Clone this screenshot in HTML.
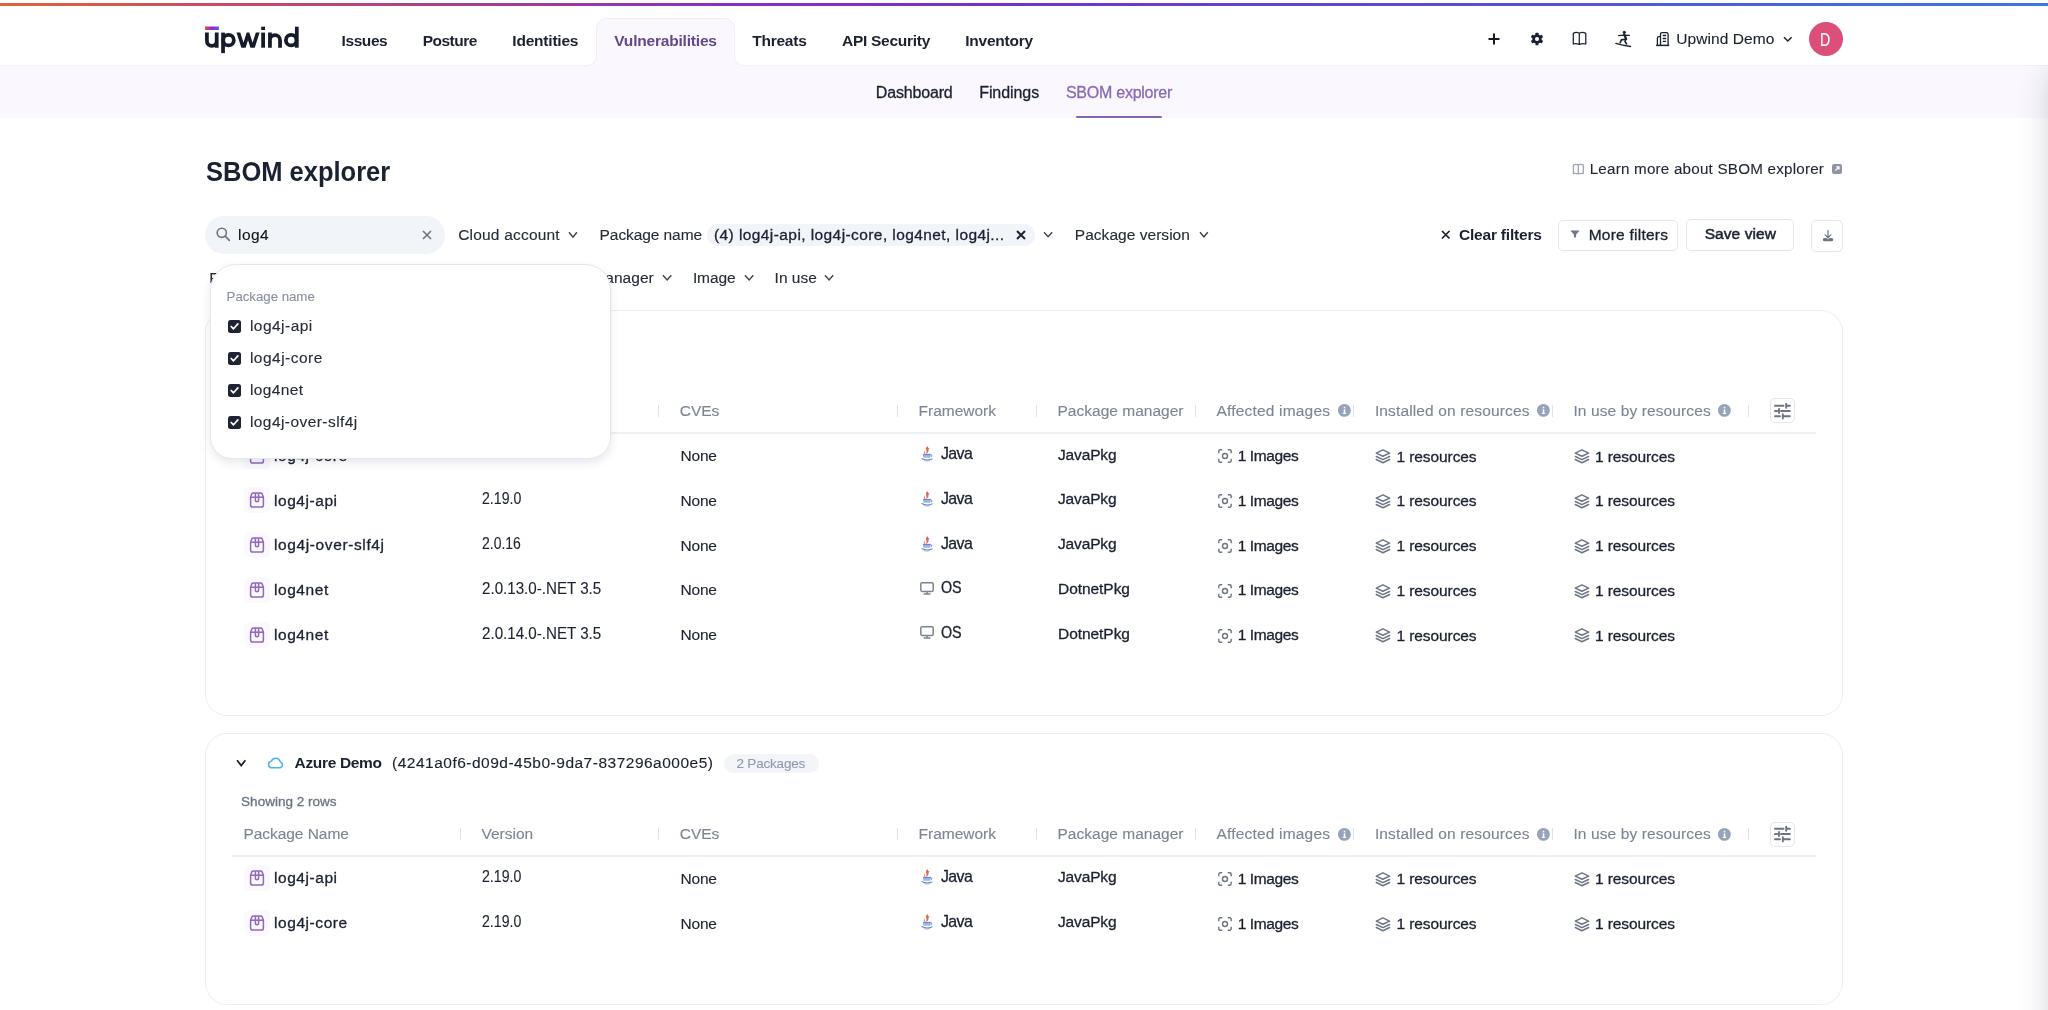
<!DOCTYPE html>
<html><head><meta charset="utf-8"><title>SBOM explorer</title>
<style>
html,body{margin:0;padding:0;background:#fff;}
body{width:2048px;height:1010px;position:relative;overflow:hidden;background:#fff;font-family:"Liberation Sans",sans-serif;-webkit-font-smoothing:antialiased;}
.a{position:absolute;}
.t{position:absolute;white-space:nowrap;line-height:1;font-family:"Liberation Sans",sans-serif;}
svg.a{overflow:visible;}
</style></head><body><div id="root" style="position:absolute;left:0;top:0;width:2048px;height:1010px;will-change:transform;">
<div class="a" style="left:0px;top:3px;width:2048px;height:3px;background:linear-gradient(90deg,#e2643a 0%,#c94c60 10%,#a8408c 22%,#8a30bc 34%,#7432c8 49%,#5650d4 73%,#3a78e2 100%);"></div>
<div class="a" style="left:0px;top:66px;width:2048px;height:52px;background:#faf8fe;"></div>
<div class="a" style="left:0px;top:65.4px;width:590px;height:1.0px;background:#f3f0f9;"></div>
<div class="a" style="left:741px;top:65.4px;width:1307px;height:1.0px;background:#f3f0f9;"></div>
<div class="a" style="left:596px;top:17.5px;width:139px;height:40px;background:#faf8fe;border:1px solid #f1edf9;border-bottom:none;border-radius:10px 10px 0 0;box-sizing:border-box;"></div>
<div class="a" style="left:597px;top:56px;width:137px;height:11px;background:#faf8fe;"></div>
<svg class="a" style="left:585px;top:56px" width="12" height="11" viewBox="0 0 12 11"><path d="M0 10 A10.5 10 0 0 0 11.5 0 L12 0 L12 11 L0 11Z" fill="#faf8fe"/><path d="M0 9.8 A10.5 9.8 0 0 0 11.5 0" fill="none" stroke="#f1edf9" stroke-width="1"/></svg>
<svg class="a" style="left:734px;top:56px" width="12" height="11" viewBox="0 0 12 11"><path d="M12 10 A10.5 10 0 0 1 0.5 0 L0 0 L0 11 L12 11Z" fill="#faf8fe"/><path d="M12 9.8 A10.5 9.8 0 0 1 0.5 0" fill="none" stroke="#f1edf9" stroke-width="1"/></svg>
<svg class="a" style="left:200px;top:20px;" width="105" height="40" viewBox="0 0 105 40"><defs><linearGradient id="lg" x1="0" x2="1"><stop offset="0" stop-color="#e0533a"/><stop offset="0.5" stop-color="#9a24d2"/><stop offset="1" stop-color="#4a6be2"/></linearGradient><clipPath id="wc"><rect x="230" y="32.6" width="30" height="15.1"/></clipPath></defs>
<g transform="translate(-200 -20)">
<rect x="205" y="26.5" width="14" height="3.5" fill="url(#lg)"/>
<g fill="none" stroke="#151b2b" stroke-width="3.75">
<path d="M206.9 32.6 V40.9 A4.9 4.9 0 0 0 216.7 40.9 V32.6 M216.7 40 V47.7"/>
<path d="M223.05 32.6 V53.1"/><circle cx="228.5" cy="40.15" r="5.3"/>
<path d="M237.6 30 L243.5 48.6 L248 34.2 L252.6 48.6 L258.5 30" stroke-width="3.6" stroke-linejoin="miter" clip-path="url(#wc)"/>
<path d="M263.1 32.6 V47.7"/>
<path d="M269.95 32.6 V47.7 M269.95 40.2 A5.05 5.05 0 0 1 280.05 40.2 V47.7"/>
<circle cx="291.2" cy="40.15" r="5.3"/><path d="M296.8 26.7 V47.7"/>
</g>
<rect x="261.2" y="26.7" width="3.8" height="3.3" fill="#151b2b"/>
</g></svg>
<div class="t" style="left:341.60px;top:33.28px;font-size:15.5px;color:#1b2130;font-weight:700;letter-spacing:-0.430px;">Issues</div>
<div class="t" style="left:422.70px;top:33.28px;font-size:15.5px;color:#1b2130;font-weight:700;letter-spacing:-0.500px;">Posture</div>
<div class="t" style="left:512.30px;top:33.28px;font-size:15.5px;color:#1b2130;font-weight:700;letter-spacing:-0.206px;">Identities</div>
<div class="t" style="left:752.20px;top:33.28px;font-size:15.5px;color:#1b2130;font-weight:700;letter-spacing:-0.233px;">Threats</div>
<div class="t" style="left:842.00px;top:33.28px;font-size:15.5px;color:#1b2130;font-weight:700;letter-spacing:-0.273px;">API Security</div>
<div class="t" style="left:965.20px;top:33.28px;font-size:15.5px;color:#1b2130;font-weight:700;letter-spacing:-0.231px;">Inventory</div>
<div class="t" style="left:614.30px;top:33.08px;font-size:15.5px;color:#624889;font-weight:700;letter-spacing:-0.196px;">Vulnerabilities</div>
<div class="t" style="left:875.80px;top:84.96px;font-size:16px;color:#1b2130;letter-spacing:-0.169px;-webkit-text-stroke:0.3px #1b2130;">Dashboard</div>
<div class="t" style="left:979.20px;top:84.96px;font-size:16px;color:#1b2130;letter-spacing:-0.071px;-webkit-text-stroke:0.3px #1b2130;">Findings</div>
<div class="t" style="left:1065.90px;top:84.96px;font-size:16px;color:#8a6ab6;letter-spacing:-0.246px;-webkit-text-stroke:0.3px #8a6ab6;">SBOM explorer</div>
<div class="a" style="left:1076px;top:116px;width:86px;height:2px;background:#8765b0;border-radius:1px;"></div>
<svg class="a" style="left:1488px;top:33px;" width="12" height="12" viewBox="0 0 12 12"><path d="M6 0.5V11.5M0.5 6H11.5" stroke="#151a24" stroke-width="2"/></svg>
<svg class="a" style="left:1529.7px;top:32.1px;" width="14" height="14" viewBox="0 0 14 14"><g transform="translate(7 7)" fill="#1b2130"><circle r="4.7"/><rect x="-1.5" y="-6.3" width="3" height="3.4" rx="0.6" transform="rotate(0)"/><rect x="-1.5" y="-6.3" width="3" height="3.4" rx="0.6" transform="rotate(60)"/><rect x="-1.5" y="-6.3" width="3" height="3.4" rx="0.6" transform="rotate(120)"/><rect x="-1.5" y="-6.3" width="3" height="3.4" rx="0.6" transform="rotate(180)"/><rect x="-1.5" y="-6.3" width="3" height="3.4" rx="0.6" transform="rotate(240)"/><rect x="-1.5" y="-6.3" width="3" height="3.4" rx="0.6" transform="rotate(300)"/><circle r="2.05" fill="#fff"/></g></svg>
<svg class="a" style="left:1572px;top:31.2px;" width="15" height="15" viewBox="0 0 15 15"><g fill="none" stroke="#1b2130" stroke-width="1.25" stroke-linejoin="round"><path d="M1.3 2.4 Q4.2 0.6 7.3 2.2 Q10.4 0.6 13.8 2.4 V13 Q10.4 12.2 7.3 13.4 Q4.2 12.2 1.3 13 Z"/><path d="M7.3 2.2V13.4"/></g></svg>
<svg class="a" style="left:1610px;top:28px;" width="26" height="22" viewBox="0 0 26 22"><g fill="none" stroke="#1b2130" stroke-linecap="round" stroke-linejoin="round"><circle cx="14.3" cy="4.4" r="1.3" fill="#1b2130" stroke-width="0.6"/><path d="M8.6 7.6 L14 7.1 L19.4 7.4" stroke-width="1.3"/><path d="M14.2 6.6 L15.4 9.2 L16 11" stroke-width="2.3"/><path d="M15.6 11.2 L11.4 11.9 L10.2 14.6" stroke-width="1.6"/><path d="M15.8 11.2 L15 13.5 L16.6 16" stroke-width="1.6"/><path d="M6 15.4 Q12 17.3 20.5 18.5" stroke-width="1.5"/></g></svg>
<svg class="a" style="left:1652px;top:28px;" width="22" height="22" viewBox="0 0 22 22"><g fill="none" stroke="#1b2130" stroke-width="1.3" stroke-linejoin="round"><path d="M8.5 17.4V6.2Q8.5 4.6 10.1 4.6H14.5Q16.1 4.6 16.1 6.2V17.4"/><path d="M5.4 17.4V10.2Q5.4 8.6 7 8.6H8.5"/><path d="M4.1 17.4H17.2" stroke-width="1.5"/><path d="M11.2 7.5H13.6M11.2 10.5H13.6M11.2 13.3H13.6" stroke-linecap="round"/></g></svg>
<div class="t" style="left:1676.30px;top:30.88px;font-size:15.5px;color:#1b2130;letter-spacing:0.075px;-webkit-text-stroke:0.12px #1b2130;">Upwind Demo</div>
<svg class="a" style="left:1783px;top:36px;" width="10" height="7" viewBox="0 0 10 7"><path d="M1 1.2L4.8 5L8.6 1.2" fill="none" stroke="#1b2130" stroke-width="1.5"/></svg>
<div class="a" style="left:1809px;top:22px;width:34px;height:34px;border-radius:50%;background:#db4f79;"></div>
<div class="t" style="left:1820.30px;top:30.02px;font-size:19px;color:#ffffff;-webkit-text-stroke:0.12px #ffffff;transform:scaleX(0.7445);transform-origin:0.00px 0;">D</div>
<div class="t" style="left:205.70px;top:157.52px;font-size:27.5px;color:#1a2131;font-weight:700;transform:scaleX(0.9273);transform-origin:0.00px 0;">SBOM explorer</div>
<svg class="a" style="left:1572.2px;top:162.9px;" width="12.8" height="12" viewBox="0 0 12.8 12"><g fill="none" stroke="#9ea5b2" stroke-width="1.3" stroke-linejoin="round"><path d="M1.4 2.1 Q3.7 0.7 6.3 1.9 Q8.9 0.7 11.3 2.1 V10.6 Q8.9 9.9 6.3 10.9 Q3.7 9.9 1.4 10.6 Z"/><path d="M6.3 1.9V10.9"/></g></svg>
<div class="t" style="left:1589.70px;top:161.23px;font-size:15.2px;color:#1f2635;letter-spacing:0.217px;-webkit-text-stroke:0.12px #1f2635;">Learn more about SBOM explorer</div>
<div class="a" style="left:1831.6px;top:164.2px;width:10.2px;height:9.6px;border-radius:2px;background:#8d95a3;"></div>
<svg class="a" style="left:1831.6px;top:164.2px;" width="10.2" height="9.6" viewBox="0 0 10.2 9.6"><path d="M3.3 6.6L7 2.9M4.3 2.9H7V5.6" fill="none" stroke="#fff" stroke-width="1.2"/></svg>
<div class="a" style="left:205px;top:216px;width:240px;height:38px;border-radius:19px;background:#f1f4f9;"></div>
<svg class="a" style="left:216px;top:227px;" width="15" height="15" viewBox="0 0 15 15"><circle cx="5.8" cy="5.8" r="4.6" fill="none" stroke="#6d7483" stroke-width="1.6"/><path d="M9.2 9.2L13.3 13.3" stroke="#6d7483" stroke-width="1.7" stroke-linecap="round"/></svg>
<div class="t" style="left:238.10px;top:226.68px;font-size:15.5px;color:#111418;letter-spacing:0.400px;-webkit-text-stroke:0.12px #111418;">log4</div>
<svg class="a" style="left:421.6px;top:229.8px;" width="10" height="10" viewBox="0 0 10 10"><path d="M1 1L9 9M9 1L1 9" stroke="#6d7483" stroke-width="1.6"/></svg>
<div class="t" style="left:458.20px;top:226.88px;font-size:15.5px;color:#252b38;letter-spacing:0.200px;-webkit-text-stroke:0.12px #252b38;">Cloud account</div>
<svg class="a" style="left:568.3px;top:231.1px;" width="9.900000000000091" height="7.300000000000011" viewBox="0 0 9.900000000000091 7.300000000000011"><path d="M1 1.2L4.95 6.10L8.90 1.2" fill="none" stroke="#3a4150" stroke-width="1.4"/></svg>
<div class="t" style="left:599.60px;top:226.88px;font-size:15.5px;color:#252b38;letter-spacing:-0.082px;-webkit-text-stroke:0.12px #252b38;">Package name</div>
<div class="a" style="left:707px;top:224px;width:328px;height:22px;border-radius:11px;background:#f1f4f9;"></div>
<div class="t" style="left:714.00px;top:227.38px;font-size:15.5px;color:#1b2130;letter-spacing:0.415px;-webkit-text-stroke:0.3px #1b2130;">(4) log4j-api, log4j-core, log4net, log4j...</div>
<svg class="a" style="left:1015.6px;top:229.6px;" width="10" height="10" viewBox="0 0 10 10"><path d="M1 1L9 9M9 1L1 9" stroke="#1b2130" stroke-width="2"/></svg>
<svg class="a" style="left:1043.2px;top:231.3px;" width="10.200000000000045" height="7.0" viewBox="0 0 10.200000000000045 7.0"><path d="M1 1.2L5.10 5.80L9.20 1.2" fill="none" stroke="#3a4150" stroke-width="1.4"/></svg>
<div class="t" style="left:1074.80px;top:227.18px;font-size:15.5px;color:#252b38;letter-spacing:0.036px;-webkit-text-stroke:0.12px #252b38;">Package version</div>
<svg class="a" style="left:1198.5px;top:231.1px;" width="9.799999999999955" height="7.0" viewBox="0 0 9.799999999999955 7.0"><path d="M1 1.2L4.90 5.80L8.80 1.2" fill="none" stroke="#3a4150" stroke-width="1.4"/></svg>
<svg class="a" style="left:1440.9px;top:229.8px;" width="9.5" height="9.5" viewBox="0 0 9.5 9.5"><path d="M1 1L8.5 8.5M8.5 1L1 8.5" stroke="#1b2130" stroke-width="1.75"/></svg>
<div class="t" style="left:1458.90px;top:227.38px;font-size:15.5px;color:#1b2130;font-weight:700;letter-spacing:-0.183px;">Clear filters</div>
<div class="a" style="left:1557.5px;top:219.5px;width:120px;height:31px;border-radius:5px;border:1px solid #e2e6ee;box-sizing:border-box;"></div>
<svg class="a" style="left:1570px;top:230px;" width="10" height="8" viewBox="0 0 10 8"><path d="M1.2 0.5H8.8Q9.6 0.5 9.1 1.2L6.1 4.6V7.2Q5 7.9 3.9 7.2V4.6L0.9 1.2Q0.4 0.5 1.2 0.5Z" fill="#707888"/></svg>
<div class="t" style="left:1588.70px;top:227.38px;font-size:15.5px;color:#1b2130;letter-spacing:0.241px;-webkit-text-stroke:0.3px #1b2130;">More filters</div>
<div class="a" style="left:1686px;top:219px;width:108px;height:31.5px;border-radius:5px;border:1px solid #e2e6ee;box-sizing:border-box;"></div>
<div class="t" style="left:1704.70px;top:226.48px;font-size:15.5px;color:#1b2130;letter-spacing:0.062px;-webkit-text-stroke:0.3px #1b2130;-webkit-text-stroke:0.5px #1b2130;">Save view</div>
<div class="a" style="left:1811px;top:220px;width:31.5px;height:31.5px;border-radius:5px;border:1px solid #e2e6ee;box-sizing:border-box;"></div>
<svg class="a" style="left:1821.5px;top:229.5px;" width="12" height="12" viewBox="0 0 12 12"><path d="M6 0.6V7.6M3.1 4.9L6 7.8L8.9 4.9" fill="none" stroke="#6d7483" stroke-width="1.25" stroke-linecap="round" stroke-linejoin="round"/><path d="M0.8 9.6 Q0.8 7.9 2.4 7.9 H4.4 L6 9.4 L7.6 7.9 H9.6 Q11.3 7.9 11.3 9.6 Q11.3 11.3 9.6 11.3 H2.4 Q0.8 11.3 0.8 9.6Z" fill="#6d7483"/></svg>
<div class="t" style="left:209.20px;top:269.68px;font-size:15.5px;color:#252b38;-webkit-text-stroke:0.12px #252b38;">Framework</div>
<div class="t" style="left:527.70px;top:269.68px;font-size:15.5px;color:#252b38;letter-spacing:0.014px;-webkit-text-stroke:0.12px #252b38;">Package manager</div>
<svg class="a" style="left:662px;top:273.7px;" width="10.299999999999955" height="7.100000000000023" viewBox="0 0 10.299999999999955 7.100000000000023"><path d="M1 1.2L5.15 5.90L9.30 1.2" fill="none" stroke="#3a4150" stroke-width="1.4"/></svg>
<div class="t" style="left:692.90px;top:269.68px;font-size:15.5px;color:#252b38;letter-spacing:-0.075px;-webkit-text-stroke:0.12px #252b38;">Image</div>
<svg class="a" style="left:743.7px;top:273.7px;" width="10.299999999999955" height="7.100000000000023" viewBox="0 0 10.299999999999955 7.100000000000023"><path d="M1 1.2L5.15 5.90L9.30 1.2" fill="none" stroke="#3a4150" stroke-width="1.4"/></svg>
<div class="t" style="left:774.60px;top:269.68px;font-size:15.5px;color:#252b38;-webkit-text-stroke:0.12px #252b38;">In use</div>
<svg class="a" style="left:824px;top:273.7px;" width="10.200000000000045" height="7.100000000000023" viewBox="0 0 10.200000000000045 7.100000000000023"><path d="M1 1.2L5.10 5.90L9.20 1.2" fill="none" stroke="#3a4150" stroke-width="1.4"/></svg>
<div class="a" style="left:205px;top:310px;width:1638px;height:406px;border:1.5px solid #eceef3;border-radius:22px;box-sizing:border-box;background:#fff;"></div>
<div class="a" style="left:205px;top:733px;width:1638px;height:271.5px;border:1.5px solid #eceef3;border-radius:22px;box-sizing:border-box;background:#fff;"></div>
<div class="t" style="left:679.70px;top:402.88px;font-size:15.5px;color:#7c8595;-webkit-text-stroke:0.12px #7c8595;">CVEs</div>
<div class="t" style="left:918.60px;top:402.88px;font-size:15.5px;color:#7c8595;letter-spacing:-0.019px;-webkit-text-stroke:0.12px #7c8595;">Framework</div>
<div class="t" style="left:1057.50px;top:402.88px;font-size:15.5px;color:#7c8595;letter-spacing:0.014px;-webkit-text-stroke:0.12px #7c8595;">Package manager</div>
<div class="t" style="left:1216.40px;top:402.88px;font-size:15.5px;color:#7c8595;letter-spacing:0.196px;-webkit-text-stroke:0.12px #7c8595;">Affected images</div>
<div class="t" style="left:1374.90px;top:402.88px;font-size:15.5px;color:#7c8595;letter-spacing:0.136px;-webkit-text-stroke:0.12px #7c8595;">Installed on resources</div>
<div class="t" style="left:1573.40px;top:402.88px;font-size:15.5px;color:#7c8595;letter-spacing:0.114px;-webkit-text-stroke:0.12px #7c8595;">In use by resources</div>
<svg class="a" style="left:1337.6px;top:404.40000000000003px;" width="12.8" height="12.8" viewBox="0 0 12.8 12.8"><circle cx="6.4" cy="6.4" r="6.4" fill="#97a3ba"/><rect x="5.7" y="5.3" width="1.6" height="4.2" fill="#fff"/><rect x="5.7" y="2.8" width="1.6" height="1.5" fill="#fff"/><rect x="4.8" y="8.9" width="3.4" height="1" fill="#fff"/></svg>
<svg class="a" style="left:1536.6px;top:404.40000000000003px;" width="12.8" height="12.8" viewBox="0 0 12.8 12.8"><circle cx="6.4" cy="6.4" r="6.4" fill="#97a3ba"/><rect x="5.7" y="5.3" width="1.6" height="4.2" fill="#fff"/><rect x="5.7" y="2.8" width="1.6" height="1.5" fill="#fff"/><rect x="4.8" y="8.9" width="3.4" height="1" fill="#fff"/></svg>
<svg class="a" style="left:1718.0px;top:404.40000000000003px;" width="12.8" height="12.8" viewBox="0 0 12.8 12.8"><circle cx="6.4" cy="6.4" r="6.4" fill="#97a3ba"/><rect x="5.7" y="5.3" width="1.6" height="4.2" fill="#fff"/><rect x="5.7" y="2.8" width="1.6" height="1.5" fill="#fff"/><rect x="4.8" y="8.9" width="3.4" height="1" fill="#fff"/></svg>
<div class="a" style="left:658.0px;top:404.6px;width:1.2000000000000455px;height:12.399999999999977px;background:#dfe2e8;"></div>
<div class="a" style="left:897.1px;top:404.6px;width:1.2000000000000455px;height:12.399999999999977px;background:#dfe2e8;"></div>
<div class="a" style="left:1035.7px;top:404.6px;width:1.2000000000000455px;height:12.399999999999977px;background:#dfe2e8;"></div>
<div class="a" style="left:1194.5px;top:404.6px;width:1.2000000000000455px;height:12.399999999999977px;background:#dfe2e8;"></div>
<div class="a" style="left:1353.1px;top:404.6px;width:1.2000000000000455px;height:12.399999999999977px;background:#dfe2e8;"></div>
<div class="a" style="left:1552.3px;top:404.6px;width:1.2000000000000455px;height:12.399999999999977px;background:#dfe2e8;"></div>
<div class="a" style="left:1747.8px;top:404.6px;width:1.2000000000000455px;height:12.399999999999977px;background:#dfe2e8;"></div>
<div class="a" style="left:1769.5px;top:398.2px;width:25.2px;height:25.2px;border:1px solid #e3e6ee;border-radius:5px;box-sizing:border-box;"></div>
<svg class="a" style="left:1774px;top:402.8px;" width="17" height="16" viewBox="0 0 17 16"><g stroke="#6b7384" stroke-width="1.9" stroke-linecap="round"><path d="M1 2.7H9.5M13.2 2.7H15.9M12.2 0.6V4.8"/><path d="M1 8H3.2M7 8H15.9M5 5.9V10.1"/><path d="M1 13.3H6M10 13.3H15.9M8.8 11.2V15.4"/></g></svg>
<div class="a" style="left:232.4px;top:431.6px;width:1583.1999999999998px;height:2.0px;background:#eef0f4;"></div>
<div class="a" style="left:243.5px;top:442.5px;width:26px;height:26px;border-radius:5px;background:#fbf9fe;"></div>
<svg class="a" style="left:247.5px;top:446.5px;" width="18" height="18" viewBox="0 0 18 18"><g fill="none" stroke="#8e69bd" stroke-width="1.5" stroke-linejoin="round"><path d="M2.6 6.2 L3.8 2.9 Q4.2 1.9 5.4 1.9 H12.6 Q13.8 1.9 14.2 2.9 L15.4 6.2 V14 Q15.4 16.1 13.3 16.1 H4.7 Q2.6 16.1 2.6 14 Z"/><path d="M2.6 6.2H15.4"/><path d="M7.4 1.9V9.2 Q7.4 10.7 9 10.7 Q10.6 10.7 10.6 9.2V1.9"/></g></svg>
<div class="t" style="left:274.00px;top:447.78px;font-size:15.5px;color:#1b2130;letter-spacing:0.572px;-webkit-text-stroke:0.3px #1b2130;">log4j-core</div>
<div class="t" style="left:481.70px;top:445.49px;font-size:16.2px;color:#1b2130;-webkit-text-stroke:0.12px #1b2130;transform:scaleX(0.8724);transform-origin:0.00px 0;">2.19.0</div>
<div class="t" style="left:680.50px;top:448.08px;font-size:15.5px;color:#1b2130;letter-spacing:-0.217px;-webkit-text-stroke:0.12px #1b2130;">None</div>
<svg class="a" style="left:921.2px;top:446.3px;" width="12" height="16" viewBox="0 0 12 16"><path d="M6.6 0.2 C2.6 2.8 7.6 4.4 4.6 8 C9.6 6 5.9 3.6 8.9 2.2 C6.4 2.6 7.8 1.3 6.6 0.2Z" fill="#e2664f"/><path d="M4.3 3.9 C2.4 5.4 4.9 6.6 4 8 C2.4 7.2 2.2 5.2 4.3 3.9Z" fill="#e77a64"/><path d="M2 8.4h7.8l-0.6 3.3h-6.6z" fill="#8ea8e0"/><path d="M2 8.4h7.8" stroke="#4f77cc" stroke-width="0.9"/><path d="M3.2 10h5.4M3.4 11.2h5" stroke="#c9d6f2" stroke-width="0.5"/><path d="M9.6 8.6 q2.2 0.3 0.7 2.2" fill="none" stroke="#5b7fcf" stroke-width="0.9"/><path d="M0.6 12.6 Q5.8 15.4 11.4 12.7" fill="none" stroke="#5b7fcf" stroke-width="1.1"/><path d="M3 14.6 Q6 15.6 9 14.6" fill="none" stroke="#8aa5de" stroke-width="0.8"/></svg>
<div class="t" style="left:940.90px;top:446.24px;font-size:15.9px;color:#1b2130;letter-spacing:-0.533px;-webkit-text-stroke:0.3px #1b2130;">Java</div>
<div class="t" style="left:1058.00px;top:446.68px;font-size:15.5px;color:#1b2130;letter-spacing:-0.142px;-webkit-text-stroke:0.3px #1b2130;">JavaPkg</div>
<svg class="a" style="left:1218.1px;top:449.4px;" width="14" height="14" viewBox="0 0 14 14"><g fill="none" stroke="#6d7483" stroke-width="1.4"><path d="M0.8 4.2V2.2Q0.8 0.8 2.2 0.8H4.2M9.8 0.8H11.8Q13.2 0.8 13.2 2.2V4.2M13.2 9.8V11.8Q13.2 13.2 11.8 13.2H9.8M4.2 13.2H2.2Q0.8 13.2 0.8 11.8V9.8"/><circle cx="7" cy="7" r="2.5"/></g></svg>
<div class="t" style="left:1237.70px;top:447.98px;font-size:15.5px;color:#1b2130;letter-spacing:-0.393px;-webkit-text-stroke:0.3px #1b2130;">1 Images</div>
<svg class="a" style="left:1375.2px;top:449.2px;" width="16" height="17" viewBox="0 0 16 17"><g fill="none" stroke="#6e7686" stroke-width="1.55" stroke-linejoin="round" stroke-linecap="round"><path d="M1.3 4.1 L7.9 0.9 L14.6 4.1 L7.9 7.3 Z"/><path d="M1.3 7.5 L7.9 10.6 L14.6 7.5"/><path d="M1.3 10.5 L7.9 13.8 L14.6 10.5"/></g></svg>
<div class="t" style="left:1396.50px;top:448.58px;font-size:15.5px;color:#1b2130;letter-spacing:-0.090px;-webkit-text-stroke:0.3px #1b2130;">1 resources</div>
<svg class="a" style="left:1573.6px;top:449.2px;" width="16" height="17" viewBox="0 0 16 17"><g fill="none" stroke="#6e7686" stroke-width="1.55" stroke-linejoin="round" stroke-linecap="round"><path d="M1.3 4.1 L7.9 0.9 L14.6 4.1 L7.9 7.3 Z"/><path d="M1.3 7.5 L7.9 10.6 L14.6 7.5"/><path d="M1.3 10.5 L7.9 13.8 L14.6 10.5"/></g></svg>
<div class="t" style="left:1594.90px;top:448.58px;font-size:15.5px;color:#1b2130;letter-spacing:-0.080px;-webkit-text-stroke:0.3px #1b2130;">1 resources</div>
<div class="a" style="left:243.5px;top:487.3px;width:26px;height:26px;border-radius:5px;background:#fbf9fe;"></div>
<svg class="a" style="left:247.5px;top:491.3px;" width="18" height="18" viewBox="0 0 18 18"><g fill="none" stroke="#8e69bd" stroke-width="1.5" stroke-linejoin="round"><path d="M2.6 6.2 L3.8 2.9 Q4.2 1.9 5.4 1.9 H12.6 Q13.8 1.9 14.2 2.9 L15.4 6.2 V14 Q15.4 16.1 13.3 16.1 H4.7 Q2.6 16.1 2.6 14 Z"/><path d="M2.6 6.2H15.4"/><path d="M7.4 1.9V9.2 Q7.4 10.7 9 10.7 Q10.6 10.7 10.6 9.2V1.9"/></g></svg>
<div class="t" style="left:274.00px;top:492.58px;font-size:15.5px;color:#1b2130;letter-spacing:0.550px;-webkit-text-stroke:0.3px #1b2130;">log4j-api</div>
<div class="t" style="left:481.70px;top:490.29px;font-size:16.2px;color:#1b2130;-webkit-text-stroke:0.12px #1b2130;transform:scaleX(0.8724);transform-origin:0.00px 0;">2.19.0</div>
<div class="t" style="left:680.50px;top:492.88px;font-size:15.5px;color:#1b2130;letter-spacing:-0.217px;-webkit-text-stroke:0.12px #1b2130;">None</div>
<svg class="a" style="left:921.2px;top:491.1px;" width="12" height="16" viewBox="0 0 12 16"><path d="M6.6 0.2 C2.6 2.8 7.6 4.4 4.6 8 C9.6 6 5.9 3.6 8.9 2.2 C6.4 2.6 7.8 1.3 6.6 0.2Z" fill="#e2664f"/><path d="M4.3 3.9 C2.4 5.4 4.9 6.6 4 8 C2.4 7.2 2.2 5.2 4.3 3.9Z" fill="#e77a64"/><path d="M2 8.4h7.8l-0.6 3.3h-6.6z" fill="#8ea8e0"/><path d="M2 8.4h7.8" stroke="#4f77cc" stroke-width="0.9"/><path d="M3.2 10h5.4M3.4 11.2h5" stroke="#c9d6f2" stroke-width="0.5"/><path d="M9.6 8.6 q2.2 0.3 0.7 2.2" fill="none" stroke="#5b7fcf" stroke-width="0.9"/><path d="M0.6 12.6 Q5.8 15.4 11.4 12.7" fill="none" stroke="#5b7fcf" stroke-width="1.1"/><path d="M3 14.6 Q6 15.6 9 14.6" fill="none" stroke="#8aa5de" stroke-width="0.8"/></svg>
<div class="t" style="left:940.90px;top:491.04px;font-size:15.9px;color:#1b2130;letter-spacing:-0.533px;-webkit-text-stroke:0.3px #1b2130;">Java</div>
<div class="t" style="left:1058.00px;top:491.48px;font-size:15.5px;color:#1b2130;letter-spacing:-0.142px;-webkit-text-stroke:0.3px #1b2130;">JavaPkg</div>
<svg class="a" style="left:1218.1px;top:494.2px;" width="14" height="14" viewBox="0 0 14 14"><g fill="none" stroke="#6d7483" stroke-width="1.4"><path d="M0.8 4.2V2.2Q0.8 0.8 2.2 0.8H4.2M9.8 0.8H11.8Q13.2 0.8 13.2 2.2V4.2M13.2 9.8V11.8Q13.2 13.2 11.8 13.2H9.8M4.2 13.2H2.2Q0.8 13.2 0.8 11.8V9.8"/><circle cx="7" cy="7" r="2.5"/></g></svg>
<div class="t" style="left:1237.70px;top:492.78px;font-size:15.5px;color:#1b2130;letter-spacing:-0.393px;-webkit-text-stroke:0.3px #1b2130;">1 Images</div>
<svg class="a" style="left:1375.2px;top:494.0px;" width="16" height="17" viewBox="0 0 16 17"><g fill="none" stroke="#6e7686" stroke-width="1.55" stroke-linejoin="round" stroke-linecap="round"><path d="M1.3 4.1 L7.9 0.9 L14.6 4.1 L7.9 7.3 Z"/><path d="M1.3 7.5 L7.9 10.6 L14.6 7.5"/><path d="M1.3 10.5 L7.9 13.8 L14.6 10.5"/></g></svg>
<div class="t" style="left:1396.50px;top:493.38px;font-size:15.5px;color:#1b2130;letter-spacing:-0.090px;-webkit-text-stroke:0.3px #1b2130;">1 resources</div>
<svg class="a" style="left:1573.6px;top:494.0px;" width="16" height="17" viewBox="0 0 16 17"><g fill="none" stroke="#6e7686" stroke-width="1.55" stroke-linejoin="round" stroke-linecap="round"><path d="M1.3 4.1 L7.9 0.9 L14.6 4.1 L7.9 7.3 Z"/><path d="M1.3 7.5 L7.9 10.6 L14.6 7.5"/><path d="M1.3 10.5 L7.9 13.8 L14.6 10.5"/></g></svg>
<div class="t" style="left:1594.90px;top:493.38px;font-size:15.5px;color:#1b2130;letter-spacing:-0.080px;-webkit-text-stroke:0.3px #1b2130;">1 resources</div>
<div class="a" style="left:243.5px;top:532.1px;width:26px;height:26px;border-radius:5px;background:#fbf9fe;"></div>
<svg class="a" style="left:247.5px;top:536.1px;" width="18" height="18" viewBox="0 0 18 18"><g fill="none" stroke="#8e69bd" stroke-width="1.5" stroke-linejoin="round"><path d="M2.6 6.2 L3.8 2.9 Q4.2 1.9 5.4 1.9 H12.6 Q13.8 1.9 14.2 2.9 L15.4 6.2 V14 Q15.4 16.1 13.3 16.1 H4.7 Q2.6 16.1 2.6 14 Z"/><path d="M2.6 6.2H15.4"/><path d="M7.4 1.9V9.2 Q7.4 10.7 9 10.7 Q10.6 10.7 10.6 9.2V1.9"/></g></svg>
<div class="t" style="left:274.00px;top:537.38px;font-size:15.5px;color:#1b2130;letter-spacing:0.613px;-webkit-text-stroke:0.3px #1b2130;">log4j-over-slf4j</div>
<div class="t" style="left:481.70px;top:535.09px;font-size:16.2px;color:#1b2130;-webkit-text-stroke:0.12px #1b2130;transform:scaleX(0.8613);transform-origin:0.00px 0;">2.0.16</div>
<div class="t" style="left:680.50px;top:537.68px;font-size:15.5px;color:#1b2130;letter-spacing:-0.217px;-webkit-text-stroke:0.12px #1b2130;">None</div>
<svg class="a" style="left:921.2px;top:535.9px;" width="12" height="16" viewBox="0 0 12 16"><path d="M6.6 0.2 C2.6 2.8 7.6 4.4 4.6 8 C9.6 6 5.9 3.6 8.9 2.2 C6.4 2.6 7.8 1.3 6.6 0.2Z" fill="#e2664f"/><path d="M4.3 3.9 C2.4 5.4 4.9 6.6 4 8 C2.4 7.2 2.2 5.2 4.3 3.9Z" fill="#e77a64"/><path d="M2 8.4h7.8l-0.6 3.3h-6.6z" fill="#8ea8e0"/><path d="M2 8.4h7.8" stroke="#4f77cc" stroke-width="0.9"/><path d="M3.2 10h5.4M3.4 11.2h5" stroke="#c9d6f2" stroke-width="0.5"/><path d="M9.6 8.6 q2.2 0.3 0.7 2.2" fill="none" stroke="#5b7fcf" stroke-width="0.9"/><path d="M0.6 12.6 Q5.8 15.4 11.4 12.7" fill="none" stroke="#5b7fcf" stroke-width="1.1"/><path d="M3 14.6 Q6 15.6 9 14.6" fill="none" stroke="#8aa5de" stroke-width="0.8"/></svg>
<div class="t" style="left:940.90px;top:535.84px;font-size:15.9px;color:#1b2130;letter-spacing:-0.533px;-webkit-text-stroke:0.3px #1b2130;">Java</div>
<div class="t" style="left:1058.00px;top:536.28px;font-size:15.5px;color:#1b2130;letter-spacing:-0.142px;-webkit-text-stroke:0.3px #1b2130;">JavaPkg</div>
<svg class="a" style="left:1218.1px;top:539.0px;" width="14" height="14" viewBox="0 0 14 14"><g fill="none" stroke="#6d7483" stroke-width="1.4"><path d="M0.8 4.2V2.2Q0.8 0.8 2.2 0.8H4.2M9.8 0.8H11.8Q13.2 0.8 13.2 2.2V4.2M13.2 9.8V11.8Q13.2 13.2 11.8 13.2H9.8M4.2 13.2H2.2Q0.8 13.2 0.8 11.8V9.8"/><circle cx="7" cy="7" r="2.5"/></g></svg>
<div class="t" style="left:1237.70px;top:537.58px;font-size:15.5px;color:#1b2130;letter-spacing:-0.393px;-webkit-text-stroke:0.3px #1b2130;">1 Images</div>
<svg class="a" style="left:1375.2px;top:538.8000000000001px;" width="16" height="17" viewBox="0 0 16 17"><g fill="none" stroke="#6e7686" stroke-width="1.55" stroke-linejoin="round" stroke-linecap="round"><path d="M1.3 4.1 L7.9 0.9 L14.6 4.1 L7.9 7.3 Z"/><path d="M1.3 7.5 L7.9 10.6 L14.6 7.5"/><path d="M1.3 10.5 L7.9 13.8 L14.6 10.5"/></g></svg>
<div class="t" style="left:1396.50px;top:538.18px;font-size:15.5px;color:#1b2130;letter-spacing:-0.090px;-webkit-text-stroke:0.3px #1b2130;">1 resources</div>
<svg class="a" style="left:1573.6px;top:538.8000000000001px;" width="16" height="17" viewBox="0 0 16 17"><g fill="none" stroke="#6e7686" stroke-width="1.55" stroke-linejoin="round" stroke-linecap="round"><path d="M1.3 4.1 L7.9 0.9 L14.6 4.1 L7.9 7.3 Z"/><path d="M1.3 7.5 L7.9 10.6 L14.6 7.5"/><path d="M1.3 10.5 L7.9 13.8 L14.6 10.5"/></g></svg>
<div class="t" style="left:1594.90px;top:538.18px;font-size:15.5px;color:#1b2130;letter-spacing:-0.080px;-webkit-text-stroke:0.3px #1b2130;">1 resources</div>
<div class="a" style="left:243.5px;top:576.9px;width:26px;height:26px;border-radius:5px;background:#fbf9fe;"></div>
<svg class="a" style="left:247.5px;top:580.9px;" width="18" height="18" viewBox="0 0 18 18"><g fill="none" stroke="#8e69bd" stroke-width="1.5" stroke-linejoin="round"><path d="M2.6 6.2 L3.8 2.9 Q4.2 1.9 5.4 1.9 H12.6 Q13.8 1.9 14.2 2.9 L15.4 6.2 V14 Q15.4 16.1 13.3 16.1 H4.7 Q2.6 16.1 2.6 14 Z"/><path d="M2.6 6.2H15.4"/><path d="M7.4 1.9V9.2 Q7.4 10.7 9 10.7 Q10.6 10.7 10.6 9.2V1.9"/></g></svg>
<div class="t" style="left:274.00px;top:582.18px;font-size:15.5px;color:#1b2130;letter-spacing:0.558px;-webkit-text-stroke:0.3px #1b2130;">log4net</div>
<div class="t" style="left:481.70px;top:579.89px;font-size:16.2px;color:#1b2130;-webkit-text-stroke:0.12px #1b2130;transform:scaleX(0.9353);transform-origin:0.00px 0;">2.0.13.0-.NET 3.5</div>
<div class="t" style="left:680.50px;top:582.48px;font-size:15.5px;color:#1b2130;letter-spacing:-0.217px;-webkit-text-stroke:0.12px #1b2130;">None</div>
<svg class="a" style="left:920.3px;top:581.5px;" width="14" height="13" viewBox="0 0 14 13"><rect x="0.8" y="0.8" width="12.4" height="8.6" rx="1.3" fill="none" stroke="#7c8493" stroke-width="1.5"/><path d="M7 9.4V11.8M3.6 12.1H10.4" stroke="#7c8493" stroke-width="1.5"/></svg>
<div class="t" style="left:940.70px;top:579.74px;font-size:15.9px;color:#1b2130;-webkit-text-stroke:0.3px #1b2130;transform:scaleX(0.9000);transform-origin:0.00px 0;">OS</div>
<div class="t" style="left:1058.00px;top:581.08px;font-size:15.5px;color:#1b2130;letter-spacing:-0.050px;-webkit-text-stroke:0.3px #1b2130;">DotnetPkg</div>
<svg class="a" style="left:1218.1px;top:583.8px;" width="14" height="14" viewBox="0 0 14 14"><g fill="none" stroke="#6d7483" stroke-width="1.4"><path d="M0.8 4.2V2.2Q0.8 0.8 2.2 0.8H4.2M9.8 0.8H11.8Q13.2 0.8 13.2 2.2V4.2M13.2 9.8V11.8Q13.2 13.2 11.8 13.2H9.8M4.2 13.2H2.2Q0.8 13.2 0.8 11.8V9.8"/><circle cx="7" cy="7" r="2.5"/></g></svg>
<div class="t" style="left:1237.70px;top:582.38px;font-size:15.5px;color:#1b2130;letter-spacing:-0.393px;-webkit-text-stroke:0.3px #1b2130;">1 Images</div>
<svg class="a" style="left:1375.2px;top:583.6px;" width="16" height="17" viewBox="0 0 16 17"><g fill="none" stroke="#6e7686" stroke-width="1.55" stroke-linejoin="round" stroke-linecap="round"><path d="M1.3 4.1 L7.9 0.9 L14.6 4.1 L7.9 7.3 Z"/><path d="M1.3 7.5 L7.9 10.6 L14.6 7.5"/><path d="M1.3 10.5 L7.9 13.8 L14.6 10.5"/></g></svg>
<div class="t" style="left:1396.50px;top:582.98px;font-size:15.5px;color:#1b2130;letter-spacing:-0.090px;-webkit-text-stroke:0.3px #1b2130;">1 resources</div>
<svg class="a" style="left:1573.6px;top:583.6px;" width="16" height="17" viewBox="0 0 16 17"><g fill="none" stroke="#6e7686" stroke-width="1.55" stroke-linejoin="round" stroke-linecap="round"><path d="M1.3 4.1 L7.9 0.9 L14.6 4.1 L7.9 7.3 Z"/><path d="M1.3 7.5 L7.9 10.6 L14.6 7.5"/><path d="M1.3 10.5 L7.9 13.8 L14.6 10.5"/></g></svg>
<div class="t" style="left:1594.90px;top:582.98px;font-size:15.5px;color:#1b2130;letter-spacing:-0.080px;-webkit-text-stroke:0.3px #1b2130;">1 resources</div>
<div class="a" style="left:243.5px;top:621.7px;width:26px;height:26px;border-radius:5px;background:#fbf9fe;"></div>
<svg class="a" style="left:247.5px;top:625.7px;" width="18" height="18" viewBox="0 0 18 18"><g fill="none" stroke="#8e69bd" stroke-width="1.5" stroke-linejoin="round"><path d="M2.6 6.2 L3.8 2.9 Q4.2 1.9 5.4 1.9 H12.6 Q13.8 1.9 14.2 2.9 L15.4 6.2 V14 Q15.4 16.1 13.3 16.1 H4.7 Q2.6 16.1 2.6 14 Z"/><path d="M2.6 6.2H15.4"/><path d="M7.4 1.9V9.2 Q7.4 10.7 9 10.7 Q10.6 10.7 10.6 9.2V1.9"/></g></svg>
<div class="t" style="left:274.00px;top:626.98px;font-size:15.5px;color:#1b2130;letter-spacing:0.558px;-webkit-text-stroke:0.3px #1b2130;">log4net</div>
<div class="t" style="left:481.70px;top:624.69px;font-size:16.2px;color:#1b2130;-webkit-text-stroke:0.12px #1b2130;transform:scaleX(0.9353);transform-origin:0.00px 0;">2.0.14.0-.NET 3.5</div>
<div class="t" style="left:680.50px;top:627.28px;font-size:15.5px;color:#1b2130;letter-spacing:-0.217px;-webkit-text-stroke:0.12px #1b2130;">None</div>
<svg class="a" style="left:920.3px;top:626.3000000000001px;" width="14" height="13" viewBox="0 0 14 13"><rect x="0.8" y="0.8" width="12.4" height="8.6" rx="1.3" fill="none" stroke="#7c8493" stroke-width="1.5"/><path d="M7 9.4V11.8M3.6 12.1H10.4" stroke="#7c8493" stroke-width="1.5"/></svg>
<div class="t" style="left:940.70px;top:624.54px;font-size:15.9px;color:#1b2130;-webkit-text-stroke:0.3px #1b2130;transform:scaleX(0.9000);transform-origin:0.00px 0;">OS</div>
<div class="t" style="left:1058.00px;top:625.88px;font-size:15.5px;color:#1b2130;letter-spacing:-0.050px;-webkit-text-stroke:0.3px #1b2130;">DotnetPkg</div>
<svg class="a" style="left:1218.1px;top:628.6px;" width="14" height="14" viewBox="0 0 14 14"><g fill="none" stroke="#6d7483" stroke-width="1.4"><path d="M0.8 4.2V2.2Q0.8 0.8 2.2 0.8H4.2M9.8 0.8H11.8Q13.2 0.8 13.2 2.2V4.2M13.2 9.8V11.8Q13.2 13.2 11.8 13.2H9.8M4.2 13.2H2.2Q0.8 13.2 0.8 11.8V9.8"/><circle cx="7" cy="7" r="2.5"/></g></svg>
<div class="t" style="left:1237.70px;top:627.18px;font-size:15.5px;color:#1b2130;letter-spacing:-0.393px;-webkit-text-stroke:0.3px #1b2130;">1 Images</div>
<svg class="a" style="left:1375.2px;top:628.4000000000001px;" width="16" height="17" viewBox="0 0 16 17"><g fill="none" stroke="#6e7686" stroke-width="1.55" stroke-linejoin="round" stroke-linecap="round"><path d="M1.3 4.1 L7.9 0.9 L14.6 4.1 L7.9 7.3 Z"/><path d="M1.3 7.5 L7.9 10.6 L14.6 7.5"/><path d="M1.3 10.5 L7.9 13.8 L14.6 10.5"/></g></svg>
<div class="t" style="left:1396.50px;top:627.78px;font-size:15.5px;color:#1b2130;letter-spacing:-0.090px;-webkit-text-stroke:0.3px #1b2130;">1 resources</div>
<svg class="a" style="left:1573.6px;top:628.4000000000001px;" width="16" height="17" viewBox="0 0 16 17"><g fill="none" stroke="#6e7686" stroke-width="1.55" stroke-linejoin="round" stroke-linecap="round"><path d="M1.3 4.1 L7.9 0.9 L14.6 4.1 L7.9 7.3 Z"/><path d="M1.3 7.5 L7.9 10.6 L14.6 7.5"/><path d="M1.3 10.5 L7.9 13.8 L14.6 10.5"/></g></svg>
<div class="t" style="left:1594.90px;top:627.78px;font-size:15.5px;color:#1b2130;letter-spacing:-0.080px;-webkit-text-stroke:0.3px #1b2130;">1 resources</div>
<svg class="a" style="left:235.9px;top:759.3px;" width="10.400000000000006" height="7.7000000000000455" viewBox="0 0 10.400000000000006 7.7000000000000455"><path d="M1 1.2L5.20 6.50L9.40 1.2" fill="none" stroke="#1b2130" stroke-width="1.8"/></svg>
<svg class="a" style="left:267px;top:757px;" width="17" height="12" viewBox="0 0 17 12"><path d="M4.2 10.8 H12.6 A3 3 0 0 0 13.2 4.9 A4.6 4.6 0 0 0 4.4 4.3 A3.3 3.3 0 0 0 4.2 10.8Z" fill="none" stroke="#4db5e6" stroke-width="1.5" stroke-linejoin="round"/></svg>
<div class="t" style="left:294.60px;top:754.98px;font-size:15.5px;color:#1b2130;font-weight:700;letter-spacing:-0.339px;">Azure Demo</div>
<div class="t" style="left:392.00px;top:754.98px;font-size:15.5px;color:#1b2130;letter-spacing:0.500px;-webkit-text-stroke:0.12px #1b2130;">(4241a0f6-d09d-45b0-9da7-837296a000e5)</div>
<div class="a" style="left:724px;top:754px;width:95px;height:19px;border-radius:9.5px;background:#f3f5f9;"></div>
<div class="t" style="left:736.50px;top:756.57px;font-size:13.5px;color:#8e9ab2;letter-spacing:-0.194px;-webkit-text-stroke:0.12px #8e9ab2;">2 Packages</div>
<div class="t" style="left:241.10px;top:795.07px;font-size:13.5px;color:#6b7383;letter-spacing:0.015px;-webkit-text-stroke:0.3px #6b7383;">Showing 2 rows</div>
<div class="t" style="left:243.40px;top:826.28px;font-size:15.5px;color:#7c8595;letter-spacing:-0.041px;-webkit-text-stroke:0.12px #7c8595;">Package Name</div>
<div class="t" style="left:481.50px;top:826.28px;font-size:15.5px;color:#7c8595;-webkit-text-stroke:0.12px #7c8595;">Version</div>
<div class="t" style="left:679.70px;top:826.28px;font-size:15.5px;color:#7c8595;-webkit-text-stroke:0.12px #7c8595;">CVEs</div>
<div class="t" style="left:918.60px;top:826.28px;font-size:15.5px;color:#7c8595;letter-spacing:-0.019px;-webkit-text-stroke:0.12px #7c8595;">Framework</div>
<div class="t" style="left:1057.50px;top:826.28px;font-size:15.5px;color:#7c8595;letter-spacing:0.014px;-webkit-text-stroke:0.12px #7c8595;">Package manager</div>
<div class="t" style="left:1216.40px;top:826.28px;font-size:15.5px;color:#7c8595;letter-spacing:0.196px;-webkit-text-stroke:0.12px #7c8595;">Affected images</div>
<div class="t" style="left:1374.90px;top:826.28px;font-size:15.5px;color:#7c8595;letter-spacing:0.136px;-webkit-text-stroke:0.12px #7c8595;">Installed on resources</div>
<div class="t" style="left:1573.40px;top:826.28px;font-size:15.5px;color:#7c8595;letter-spacing:0.114px;-webkit-text-stroke:0.12px #7c8595;">In use by resources</div>
<svg class="a" style="left:1337.6px;top:827.8px;" width="12.8" height="12.8" viewBox="0 0 12.8 12.8"><circle cx="6.4" cy="6.4" r="6.4" fill="#97a3ba"/><rect x="5.7" y="5.3" width="1.6" height="4.2" fill="#fff"/><rect x="5.7" y="2.8" width="1.6" height="1.5" fill="#fff"/><rect x="4.8" y="8.9" width="3.4" height="1" fill="#fff"/></svg>
<svg class="a" style="left:1536.6px;top:827.8px;" width="12.8" height="12.8" viewBox="0 0 12.8 12.8"><circle cx="6.4" cy="6.4" r="6.4" fill="#97a3ba"/><rect x="5.7" y="5.3" width="1.6" height="4.2" fill="#fff"/><rect x="5.7" y="2.8" width="1.6" height="1.5" fill="#fff"/><rect x="4.8" y="8.9" width="3.4" height="1" fill="#fff"/></svg>
<svg class="a" style="left:1718.0px;top:827.8px;" width="12.8" height="12.8" viewBox="0 0 12.8 12.8"><circle cx="6.4" cy="6.4" r="6.4" fill="#97a3ba"/><rect x="5.7" y="5.3" width="1.6" height="4.2" fill="#fff"/><rect x="5.7" y="2.8" width="1.6" height="1.5" fill="#fff"/><rect x="4.8" y="8.9" width="3.4" height="1" fill="#fff"/></svg>
<div class="a" style="left:459.5px;top:827.9999999999999px;width:1.1999999999999886px;height:12.400000000000091px;background:#dfe2e8;"></div>
<div class="a" style="left:658.0px;top:827.9999999999999px;width:1.2000000000000455px;height:12.400000000000091px;background:#dfe2e8;"></div>
<div class="a" style="left:897.1px;top:827.9999999999999px;width:1.2000000000000455px;height:12.400000000000091px;background:#dfe2e8;"></div>
<div class="a" style="left:1035.7px;top:827.9999999999999px;width:1.2000000000000455px;height:12.400000000000091px;background:#dfe2e8;"></div>
<div class="a" style="left:1194.5px;top:827.9999999999999px;width:1.2000000000000455px;height:12.400000000000091px;background:#dfe2e8;"></div>
<div class="a" style="left:1353.1px;top:827.9999999999999px;width:1.2000000000000455px;height:12.400000000000091px;background:#dfe2e8;"></div>
<div class="a" style="left:1552.3px;top:827.9999999999999px;width:1.2000000000000455px;height:12.400000000000091px;background:#dfe2e8;"></div>
<div class="a" style="left:1747.8px;top:827.9999999999999px;width:1.2000000000000455px;height:12.400000000000091px;background:#dfe2e8;"></div>
<div class="a" style="left:1769.5px;top:821.6px;width:25.2px;height:25.2px;border:1px solid #e3e6ee;border-radius:5px;box-sizing:border-box;"></div>
<svg class="a" style="left:1774px;top:826.1999999999999px;" width="17" height="16" viewBox="0 0 17 16"><g stroke="#6b7384" stroke-width="1.9" stroke-linecap="round"><path d="M1 2.7H9.5M13.2 2.7H15.9M12.2 0.6V4.8"/><path d="M1 8H3.2M7 8H15.9M5 5.9V10.1"/><path d="M1 13.3H6M10 13.3H15.9M8.8 11.2V15.4"/></g></svg>
<div class="a" style="left:232.4px;top:855px;width:1583.1999999999998px;height:2px;background:#eef0f4;"></div>
<div class="a" style="left:243.5px;top:865.2px;width:26px;height:26px;border-radius:5px;background:#fbf9fe;"></div>
<svg class="a" style="left:247.5px;top:869.2px;" width="18" height="18" viewBox="0 0 18 18"><g fill="none" stroke="#8e69bd" stroke-width="1.5" stroke-linejoin="round"><path d="M2.6 6.2 L3.8 2.9 Q4.2 1.9 5.4 1.9 H12.6 Q13.8 1.9 14.2 2.9 L15.4 6.2 V14 Q15.4 16.1 13.3 16.1 H4.7 Q2.6 16.1 2.6 14 Z"/><path d="M2.6 6.2H15.4"/><path d="M7.4 1.9V9.2 Q7.4 10.7 9 10.7 Q10.6 10.7 10.6 9.2V1.9"/></g></svg>
<div class="t" style="left:274.00px;top:870.48px;font-size:15.5px;color:#1b2130;letter-spacing:0.550px;-webkit-text-stroke:0.3px #1b2130;">log4j-api</div>
<div class="t" style="left:481.70px;top:868.19px;font-size:16.2px;color:#1b2130;-webkit-text-stroke:0.12px #1b2130;transform:scaleX(0.8724);transform-origin:0.00px 0;">2.19.0</div>
<div class="t" style="left:680.50px;top:870.78px;font-size:15.5px;color:#1b2130;letter-spacing:-0.217px;-webkit-text-stroke:0.12px #1b2130;">None</div>
<svg class="a" style="left:921.2px;top:869.0px;" width="12" height="16" viewBox="0 0 12 16"><path d="M6.6 0.2 C2.6 2.8 7.6 4.4 4.6 8 C9.6 6 5.9 3.6 8.9 2.2 C6.4 2.6 7.8 1.3 6.6 0.2Z" fill="#e2664f"/><path d="M4.3 3.9 C2.4 5.4 4.9 6.6 4 8 C2.4 7.2 2.2 5.2 4.3 3.9Z" fill="#e77a64"/><path d="M2 8.4h7.8l-0.6 3.3h-6.6z" fill="#8ea8e0"/><path d="M2 8.4h7.8" stroke="#4f77cc" stroke-width="0.9"/><path d="M3.2 10h5.4M3.4 11.2h5" stroke="#c9d6f2" stroke-width="0.5"/><path d="M9.6 8.6 q2.2 0.3 0.7 2.2" fill="none" stroke="#5b7fcf" stroke-width="0.9"/><path d="M0.6 12.6 Q5.8 15.4 11.4 12.7" fill="none" stroke="#5b7fcf" stroke-width="1.1"/><path d="M3 14.6 Q6 15.6 9 14.6" fill="none" stroke="#8aa5de" stroke-width="0.8"/></svg>
<div class="t" style="left:940.90px;top:868.94px;font-size:15.9px;color:#1b2130;letter-spacing:-0.533px;-webkit-text-stroke:0.3px #1b2130;">Java</div>
<div class="t" style="left:1058.00px;top:869.38px;font-size:15.5px;color:#1b2130;letter-spacing:-0.142px;-webkit-text-stroke:0.3px #1b2130;">JavaPkg</div>
<svg class="a" style="left:1218.1px;top:872.1px;" width="14" height="14" viewBox="0 0 14 14"><g fill="none" stroke="#6d7483" stroke-width="1.4"><path d="M0.8 4.2V2.2Q0.8 0.8 2.2 0.8H4.2M9.8 0.8H11.8Q13.2 0.8 13.2 2.2V4.2M13.2 9.8V11.8Q13.2 13.2 11.8 13.2H9.8M4.2 13.2H2.2Q0.8 13.2 0.8 11.8V9.8"/><circle cx="7" cy="7" r="2.5"/></g></svg>
<div class="t" style="left:1237.70px;top:870.68px;font-size:15.5px;color:#1b2130;letter-spacing:-0.393px;-webkit-text-stroke:0.3px #1b2130;">1 Images</div>
<svg class="a" style="left:1375.2px;top:871.9000000000001px;" width="16" height="17" viewBox="0 0 16 17"><g fill="none" stroke="#6e7686" stroke-width="1.55" stroke-linejoin="round" stroke-linecap="round"><path d="M1.3 4.1 L7.9 0.9 L14.6 4.1 L7.9 7.3 Z"/><path d="M1.3 7.5 L7.9 10.6 L14.6 7.5"/><path d="M1.3 10.5 L7.9 13.8 L14.6 10.5"/></g></svg>
<div class="t" style="left:1396.50px;top:871.28px;font-size:15.5px;color:#1b2130;letter-spacing:-0.090px;-webkit-text-stroke:0.3px #1b2130;">1 resources</div>
<svg class="a" style="left:1573.6px;top:871.9000000000001px;" width="16" height="17" viewBox="0 0 16 17"><g fill="none" stroke="#6e7686" stroke-width="1.55" stroke-linejoin="round" stroke-linecap="round"><path d="M1.3 4.1 L7.9 0.9 L14.6 4.1 L7.9 7.3 Z"/><path d="M1.3 7.5 L7.9 10.6 L14.6 7.5"/><path d="M1.3 10.5 L7.9 13.8 L14.6 10.5"/></g></svg>
<div class="t" style="left:1594.90px;top:871.28px;font-size:15.5px;color:#1b2130;letter-spacing:-0.080px;-webkit-text-stroke:0.3px #1b2130;">1 resources</div>
<div class="a" style="left:243.5px;top:910.2px;width:26px;height:26px;border-radius:5px;background:#fbf9fe;"></div>
<svg class="a" style="left:247.5px;top:914.2px;" width="18" height="18" viewBox="0 0 18 18"><g fill="none" stroke="#8e69bd" stroke-width="1.5" stroke-linejoin="round"><path d="M2.6 6.2 L3.8 2.9 Q4.2 1.9 5.4 1.9 H12.6 Q13.8 1.9 14.2 2.9 L15.4 6.2 V14 Q15.4 16.1 13.3 16.1 H4.7 Q2.6 16.1 2.6 14 Z"/><path d="M2.6 6.2H15.4"/><path d="M7.4 1.9V9.2 Q7.4 10.7 9 10.7 Q10.6 10.7 10.6 9.2V1.9"/></g></svg>
<div class="t" style="left:274.00px;top:915.48px;font-size:15.5px;color:#1b2130;letter-spacing:0.572px;-webkit-text-stroke:0.3px #1b2130;">log4j-core</div>
<div class="t" style="left:481.70px;top:913.19px;font-size:16.2px;color:#1b2130;-webkit-text-stroke:0.12px #1b2130;transform:scaleX(0.8724);transform-origin:0.00px 0;">2.19.0</div>
<div class="t" style="left:680.50px;top:915.78px;font-size:15.5px;color:#1b2130;letter-spacing:-0.217px;-webkit-text-stroke:0.12px #1b2130;">None</div>
<svg class="a" style="left:921.2px;top:914.0px;" width="12" height="16" viewBox="0 0 12 16"><path d="M6.6 0.2 C2.6 2.8 7.6 4.4 4.6 8 C9.6 6 5.9 3.6 8.9 2.2 C6.4 2.6 7.8 1.3 6.6 0.2Z" fill="#e2664f"/><path d="M4.3 3.9 C2.4 5.4 4.9 6.6 4 8 C2.4 7.2 2.2 5.2 4.3 3.9Z" fill="#e77a64"/><path d="M2 8.4h7.8l-0.6 3.3h-6.6z" fill="#8ea8e0"/><path d="M2 8.4h7.8" stroke="#4f77cc" stroke-width="0.9"/><path d="M3.2 10h5.4M3.4 11.2h5" stroke="#c9d6f2" stroke-width="0.5"/><path d="M9.6 8.6 q2.2 0.3 0.7 2.2" fill="none" stroke="#5b7fcf" stroke-width="0.9"/><path d="M0.6 12.6 Q5.8 15.4 11.4 12.7" fill="none" stroke="#5b7fcf" stroke-width="1.1"/><path d="M3 14.6 Q6 15.6 9 14.6" fill="none" stroke="#8aa5de" stroke-width="0.8"/></svg>
<div class="t" style="left:940.90px;top:913.94px;font-size:15.9px;color:#1b2130;letter-spacing:-0.533px;-webkit-text-stroke:0.3px #1b2130;">Java</div>
<div class="t" style="left:1058.00px;top:914.38px;font-size:15.5px;color:#1b2130;letter-spacing:-0.142px;-webkit-text-stroke:0.3px #1b2130;">JavaPkg</div>
<svg class="a" style="left:1218.1px;top:917.1px;" width="14" height="14" viewBox="0 0 14 14"><g fill="none" stroke="#6d7483" stroke-width="1.4"><path d="M0.8 4.2V2.2Q0.8 0.8 2.2 0.8H4.2M9.8 0.8H11.8Q13.2 0.8 13.2 2.2V4.2M13.2 9.8V11.8Q13.2 13.2 11.8 13.2H9.8M4.2 13.2H2.2Q0.8 13.2 0.8 11.8V9.8"/><circle cx="7" cy="7" r="2.5"/></g></svg>
<div class="t" style="left:1237.70px;top:915.68px;font-size:15.5px;color:#1b2130;letter-spacing:-0.393px;-webkit-text-stroke:0.3px #1b2130;">1 Images</div>
<svg class="a" style="left:1375.2px;top:916.9000000000001px;" width="16" height="17" viewBox="0 0 16 17"><g fill="none" stroke="#6e7686" stroke-width="1.55" stroke-linejoin="round" stroke-linecap="round"><path d="M1.3 4.1 L7.9 0.9 L14.6 4.1 L7.9 7.3 Z"/><path d="M1.3 7.5 L7.9 10.6 L14.6 7.5"/><path d="M1.3 10.5 L7.9 13.8 L14.6 10.5"/></g></svg>
<div class="t" style="left:1396.50px;top:916.28px;font-size:15.5px;color:#1b2130;letter-spacing:-0.090px;-webkit-text-stroke:0.3px #1b2130;">1 resources</div>
<svg class="a" style="left:1573.6px;top:916.9000000000001px;" width="16" height="17" viewBox="0 0 16 17"><g fill="none" stroke="#6e7686" stroke-width="1.55" stroke-linejoin="round" stroke-linecap="round"><path d="M1.3 4.1 L7.9 0.9 L14.6 4.1 L7.9 7.3 Z"/><path d="M1.3 7.5 L7.9 10.6 L14.6 7.5"/><path d="M1.3 10.5 L7.9 13.8 L14.6 10.5"/></g></svg>
<div class="t" style="left:1594.90px;top:916.28px;font-size:15.5px;color:#1b2130;letter-spacing:-0.080px;-webkit-text-stroke:0.3px #1b2130;">1 resources</div>
<div class="a" style="left:210px;top:263.9px;width:400.5px;height:195.1px;border:1px solid #e4e7ed;border-radius:26px 26px 22px 22px;background:#fff;box-shadow:0 4px 10px rgba(30,40,70,0.10);box-sizing:border-box;"></div>
<div class="t" style="left:226.60px;top:290.04px;font-size:13.3px;color:#8a919e;letter-spacing:-0.045px;-webkit-text-stroke:0.12px #8a919e;">Package name</div>
<div class="a" style="left:228px;top:320.4px;width:13px;height:12.6px;border-radius:2.5px;background:#1f2433;"></div>
<svg class="a" style="left:228px;top:320.4px;" width="13" height="12.6" viewBox="0 0 13 12.6"><path d="M3.2 6.5L5.5 8.8L9.9 3.9" fill="none" stroke="#fff" stroke-width="1.7" stroke-linecap="round" stroke-linejoin="round"/></svg>
<div class="t" style="left:249.90px;top:318.28px;font-size:15.5px;color:#252b38;letter-spacing:0.475px;-webkit-text-stroke:0.12px #252b38;">log4j-api</div>
<div class="a" style="left:228px;top:352.4px;width:13px;height:12.6px;border-radius:2.5px;background:#1f2433;"></div>
<svg class="a" style="left:228px;top:352.4px;" width="13" height="12.6" viewBox="0 0 13 12.6"><path d="M3.2 6.5L5.5 8.8L9.9 3.9" fill="none" stroke="#fff" stroke-width="1.7" stroke-linecap="round" stroke-linejoin="round"/></svg>
<div class="t" style="left:249.90px;top:350.28px;font-size:15.5px;color:#252b38;letter-spacing:0.483px;-webkit-text-stroke:0.12px #252b38;">log4j-core</div>
<div class="a" style="left:228px;top:384.4px;width:13px;height:12.6px;border-radius:2.5px;background:#1f2433;"></div>
<svg class="a" style="left:228px;top:384.4px;" width="13" height="12.6" viewBox="0 0 13 12.6"><path d="M3.2 6.5L5.5 8.8L9.9 3.9" fill="none" stroke="#fff" stroke-width="1.7" stroke-linecap="round" stroke-linejoin="round"/></svg>
<div class="t" style="left:249.90px;top:382.28px;font-size:15.5px;color:#252b38;letter-spacing:0.375px;-webkit-text-stroke:0.12px #252b38;">log4net</div>
<div class="a" style="left:228px;top:416.4px;width:13px;height:12.6px;border-radius:2.5px;background:#1f2433;"></div>
<svg class="a" style="left:228px;top:416.4px;" width="13" height="12.6" viewBox="0 0 13 12.6"><path d="M3.2 6.5L5.5 8.8L9.9 3.9" fill="none" stroke="#fff" stroke-width="1.7" stroke-linecap="round" stroke-linejoin="round"/></svg>
<div class="t" style="left:249.90px;top:414.28px;font-size:15.5px;color:#252b38;letter-spacing:0.440px;-webkit-text-stroke:0.12px #252b38;">log4j-over-slf4j</div>
<div class="a" style="left:2049px;top:66px;width:400px;height:1100px;border-radius:22px;background:#fff;box-shadow:0 0 30px rgba(45,45,80,0.22);"></div>
<div class="a" style="left:1960px;top:6px;width:88px;height:59.400000000000006px;background:#fff;"></div>
</div></body></html>
